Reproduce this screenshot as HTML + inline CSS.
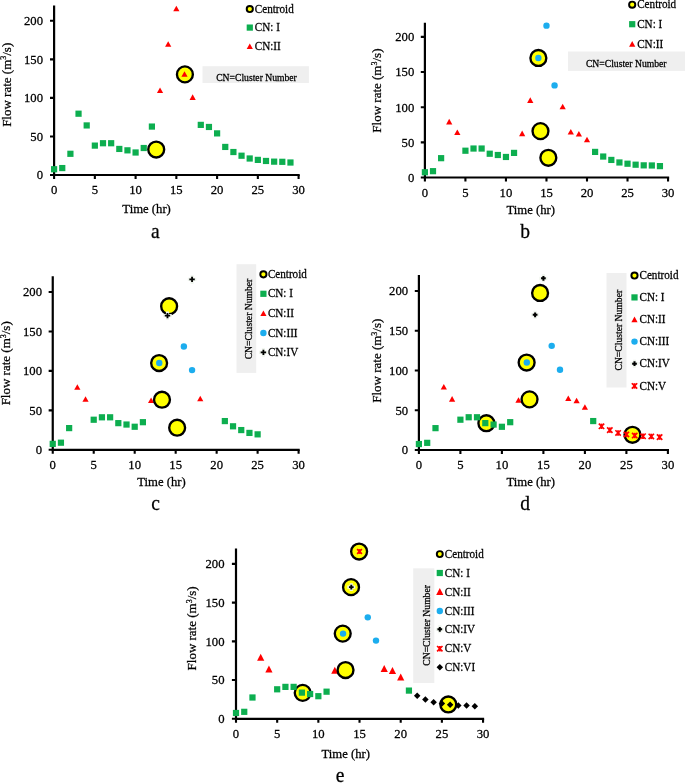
<!DOCTYPE html>
<html><head><meta charset="utf-8"><title>Cluster plots</title>
<style>html,body{margin:0;padding:0;background:#fff}svg{display:block}text{font-family:"Liberation Serif","Times New Roman",serif;fill:#000;stroke:#000;stroke-width:0.26px}</style>
</head><body>
<svg width="685" height="783" viewBox="0 0 685 783">
<defs><filter id="soft" x="0" y="0" width="685" height="783" filterUnits="userSpaceOnUse"><feGaussianBlur stdDeviation="0.33"/></filter></defs>
<rect width="685" height="783" fill="#fff"/>
<g filter="url(#soft)">
<rect x="202.5" y="66.2" width="106.4" height="16.8" fill="#efefef"/>
<path d="M54.1 5.38V176.1M53 175H299.7" stroke="#000" stroke-width="2.2" fill="none"/>
<path d="M50 175H54.1M50 136.45H54.1M50 97.9H54.1M50 59.35H54.1M50 20.8H54.1M54.1 175V178.9M94.85 175V178.9M135.6 175V178.9M176.35 175V178.9M217.1 175V178.9M257.85 175V178.9M298.6 175V178.9" stroke="#000" stroke-width="2.1" fill="none"/>
<text transform="translate(43 179.3) scale(1 1.03)" font-size="12.7" text-anchor="end" >0</text>
<text transform="translate(43 140.75) scale(1 1.03)" font-size="12.7" text-anchor="end" >50</text>
<text transform="translate(43 102.2) scale(1 1.03)" font-size="12.7" text-anchor="end" >100</text>
<text transform="translate(43 63.65) scale(1 1.03)" font-size="12.7" text-anchor="end" >150</text>
<text transform="translate(43 25.1) scale(1 1.03)" font-size="12.7" text-anchor="end" >200</text>
<text transform="translate(54.1 194.4) scale(1 1.03)" font-size="12.7" text-anchor="middle" >0</text>
<text transform="translate(94.85 194.4) scale(1 1.03)" font-size="12.7" text-anchor="middle" >5</text>
<text transform="translate(135.6 194.4) scale(1 1.03)" font-size="12.7" text-anchor="middle" >10</text>
<text transform="translate(176.35 194.4) scale(1 1.03)" font-size="12.7" text-anchor="middle" >15</text>
<text transform="translate(217.1 194.4) scale(1 1.03)" font-size="12.7" text-anchor="middle" >20</text>
<text transform="translate(257.85 194.4) scale(1 1.03)" font-size="12.7" text-anchor="middle" >25</text>
<text transform="translate(298.6 194.4) scale(1 1.03)" font-size="12.7" text-anchor="middle" >30</text>
<text transform="translate(146.6 212.8) scale(1 1.03)" font-size="12.7" text-anchor="middle" >Time (hr)</text>
<text transform="translate(10.8 84.8) rotate(-90) scale(1 1.03)" font-size="13" text-anchor="middle">Flow rate (m<tspan font-size="8" dy="-4.2">3</tspan><tspan dy="4.2">/s)</tspan></text>
<text transform="translate(155.4 237.8) scale(1 1.03)" font-size="19.5" text-anchor="middle" >a</text>
<rect x="51" y="166.12" width="6.2" height="6.2" fill="#0bae50"/>
<rect x="59.15" y="164.96" width="6.2" height="6.2" fill="#0bae50"/>
<rect x="67.3" y="150.7" width="6.2" height="6.2" fill="#0bae50"/>
<rect x="75.45" y="110.61" width="6.2" height="6.2" fill="#0bae50"/>
<rect x="83.6" y="122.32" width="6.2" height="6.2" fill="#0bae50"/>
<rect x="91.75" y="142.52" width="6.2" height="6.2" fill="#0bae50"/>
<rect x="99.9" y="140.13" width="6.2" height="6.2" fill="#0bae50"/>
<rect x="108.05" y="140.13" width="6.2" height="6.2" fill="#0bae50"/>
<rect x="116.2" y="145.84" width="6.2" height="6.2" fill="#0bae50"/>
<rect x="124.35" y="147.23" width="6.2" height="6.2" fill="#0bae50"/>
<rect x="132.5" y="149.39" width="6.2" height="6.2" fill="#0bae50"/>
<rect x="140.65" y="144.91" width="6.2" height="6.2" fill="#0bae50"/>
<rect x="148.8" y="123.48" width="6.2" height="6.2" fill="#0bae50"/>
<rect x="197.7" y="121.78" width="6.2" height="6.2" fill="#0bae50"/>
<rect x="205.85" y="123.87" width="6.2" height="6.2" fill="#0bae50"/>
<rect x="214" y="130.27" width="6.2" height="6.2" fill="#0bae50"/>
<rect x="222.15" y="143.84" width="6.2" height="6.2" fill="#0bae50"/>
<rect x="230.3" y="148.92" width="6.2" height="6.2" fill="#0bae50"/>
<rect x="238.45" y="152.62" width="6.2" height="6.2" fill="#0bae50"/>
<rect x="246.6" y="155.4" width="6.2" height="6.2" fill="#0bae50"/>
<rect x="254.75" y="156.79" width="6.2" height="6.2" fill="#0bae50"/>
<rect x="262.9" y="157.87" width="6.2" height="6.2" fill="#0bae50"/>
<rect x="271.05" y="158.56" width="6.2" height="6.2" fill="#0bae50"/>
<rect x="279.2" y="158.72" width="6.2" height="6.2" fill="#0bae50"/>
<rect x="287.35" y="159.41" width="6.2" height="6.2" fill="#0bae50"/>
<circle cx="156.22" cy="149.56" r="7.95" fill="#ffff00" stroke="#000" stroke-width="2.35"/>
<circle cx="184.91" cy="74.38" r="7.95" fill="#ffff00" stroke="#000" stroke-width="2.35"/>
<path d="M160.05 87.39L163.15 92.99L156.95 92.99Z" fill="#ff0000"/>
<path d="M168.2 41.13L171.3 46.73L165.1 46.73Z" fill="#ff0000"/>
<path d="M176.35 5.66L179.45 11.26L173.25 11.26Z" fill="#ff0000"/>
<path d="M184.5 71.2L187.6 76.8L181.4 76.8Z" fill="#ff0000"/>
<path d="M192.65 94.33L195.75 99.93L189.55 99.93Z" fill="#ff0000"/>
<circle cx="249.8" cy="9" r="3.1" fill="#ffff00" stroke="#000" stroke-width="1.95"/>
<text transform="translate(254.8 12.9) scale(1 1.03)" font-size="11.15" text-anchor="start" >Centroid</text>
<rect x="246.7" y="24.5" width="6.2" height="6.2" fill="#0bae50"/>
<text transform="translate(254.8 31.2) scale(1 1.03)" font-size="11.15" text-anchor="start" >CN: I</text>
<path d="M249.8 43.5L252.9 49.1L246.7 49.1Z" fill="#ff0000"/>
<text transform="translate(254.8 50.1) scale(1 1.03)" font-size="11.15" text-anchor="start" >CN:II</text>
<text transform="translate(256.5 80.7) scale(1 1.03)" font-size="9.65" text-anchor="middle" stroke-width="0.14">CN=Cluster Number</text>
<rect x="568" y="51.5" width="117" height="19.4" fill="#efefef"/>
<path d="M424.9 22.84V178.6M423.8 177.5H669.15" stroke="#000" stroke-width="2.2" fill="none"/>
<path d="M420.8 177.5H424.9M420.8 142.35H424.9M420.8 107.2H424.9M420.8 72.05H424.9M420.8 36.9H424.9M424.9 177.5V181.4M465.42 177.5V181.4M505.95 177.5V181.4M546.48 177.5V181.4M587 177.5V181.4M627.52 177.5V181.4M668.05 177.5V181.4" stroke="#000" stroke-width="2.1" fill="none"/>
<text transform="translate(414.3 181.8) scale(1 1.03)" font-size="12.7" text-anchor="end" >0</text>
<text transform="translate(414.3 146.65) scale(1 1.03)" font-size="12.7" text-anchor="end" >50</text>
<text transform="translate(414.3 111.5) scale(1 1.03)" font-size="12.7" text-anchor="end" >100</text>
<text transform="translate(414.3 76.35) scale(1 1.03)" font-size="12.7" text-anchor="end" >150</text>
<text transform="translate(414.3 41.2) scale(1 1.03)" font-size="12.7" text-anchor="end" >200</text>
<text transform="translate(424.9 196.7) scale(1 1.03)" font-size="12.7" text-anchor="middle" >0</text>
<text transform="translate(465.42 196.7) scale(1 1.03)" font-size="12.7" text-anchor="middle" >5</text>
<text transform="translate(505.95 196.7) scale(1 1.03)" font-size="12.7" text-anchor="middle" >10</text>
<text transform="translate(546.48 196.7) scale(1 1.03)" font-size="12.7" text-anchor="middle" >15</text>
<text transform="translate(587 196.7) scale(1 1.03)" font-size="12.7" text-anchor="middle" >20</text>
<text transform="translate(627.52 196.7) scale(1 1.03)" font-size="12.7" text-anchor="middle" >25</text>
<text transform="translate(668.05 196.7) scale(1 1.03)" font-size="12.7" text-anchor="middle" >30</text>
<text transform="translate(530.8 213.9) scale(1 1.03)" font-size="12.7" text-anchor="middle" >Time (hr)</text>
<text transform="translate(381.1 90.6) rotate(-90) scale(1 1.03)" font-size="13" text-anchor="middle">Flow rate (m<tspan font-size="8" dy="-4.2">3</tspan><tspan dy="4.2">/s)</tspan></text>
<text transform="translate(525.1 237.6) scale(1 1.03)" font-size="19.5" text-anchor="middle" >b</text>
<rect x="421.8" y="169.13" width="6.2" height="6.2" fill="#0bae50"/>
<rect x="429.9" y="168.07" width="6.2" height="6.2" fill="#0bae50"/>
<rect x="438.01" y="155.07" width="6.2" height="6.2" fill="#0bae50"/>
<rect x="462.32" y="147.62" width="6.2" height="6.2" fill="#0bae50"/>
<rect x="470.43" y="145.44" width="6.2" height="6.2" fill="#0bae50"/>
<rect x="478.53" y="145.44" width="6.2" height="6.2" fill="#0bae50"/>
<rect x="486.64" y="150.64" width="6.2" height="6.2" fill="#0bae50"/>
<rect x="494.74" y="151.9" width="6.2" height="6.2" fill="#0bae50"/>
<rect x="502.85" y="153.87" width="6.2" height="6.2" fill="#0bae50"/>
<rect x="510.95" y="149.8" width="6.2" height="6.2" fill="#0bae50"/>
<rect x="592" y="148.81" width="6.2" height="6.2" fill="#0bae50"/>
<rect x="600.11" y="153.45" width="6.2" height="6.2" fill="#0bae50"/>
<rect x="608.22" y="156.83" width="6.2" height="6.2" fill="#0bae50"/>
<rect x="616.32" y="159.36" width="6.2" height="6.2" fill="#0bae50"/>
<rect x="624.42" y="160.62" width="6.2" height="6.2" fill="#0bae50"/>
<rect x="632.53" y="161.61" width="6.2" height="6.2" fill="#0bae50"/>
<rect x="640.63" y="162.24" width="6.2" height="6.2" fill="#0bae50"/>
<rect x="648.74" y="162.38" width="6.2" height="6.2" fill="#0bae50"/>
<rect x="656.84" y="163.01" width="6.2" height="6.2" fill="#0bae50"/>
<path d="M449.21 118.81L452.31 124.41L446.11 124.41Z" fill="#ff0000"/>
<path d="M457.32 129.5L460.42 135.1L454.22 135.1Z" fill="#ff0000"/>
<path d="M522.16 130.55L525.26 136.15L519.06 136.15Z" fill="#ff0000"/>
<path d="M530.26 97.37L533.37 102.97L527.16 102.97Z" fill="#ff0000"/>
<path d="M562.68 103.7L565.78 109.3L559.58 109.3Z" fill="#ff0000"/>
<path d="M570.79 129L573.89 134.61L567.69 134.61Z" fill="#ff0000"/>
<path d="M578.89 130.9L582 136.5L575.79 136.5Z" fill="#ff0000"/>
<path d="M587 136.74L590.1 142.34L583.9 142.34Z" fill="#ff0000"/>
<circle cx="538.37" cy="57.99" r="7.95" fill="#ffff00" stroke="#000" stroke-width="2.35"/>
<circle cx="540.48" cy="131.1" r="7.95" fill="#ffff00" stroke="#000" stroke-width="2.35"/>
<circle cx="548.34" cy="157.82" r="7.95" fill="#ffff00" stroke="#000" stroke-width="2.35"/>
<circle cx="538.37" cy="57.99" r="3.2" fill="#1cadee"/>
<circle cx="546.48" cy="25.65" r="3.2" fill="#1cadee"/>
<circle cx="554.58" cy="85.41" r="3.2" fill="#1cadee"/>
<circle cx="632.2" cy="4.7" r="3.1" fill="#ffff00" stroke="#000" stroke-width="1.95"/>
<text transform="translate(637.2 8.2) scale(1 1.03)" font-size="11.15" text-anchor="start" >Centroid</text>
<rect x="629.1" y="21.1" width="6.2" height="6.2" fill="#0bae50"/>
<text transform="translate(637.2 27.7) scale(1 1.03)" font-size="11.15" text-anchor="start" >CN: I</text>
<path d="M632.2 41.1L635.3 46.7L629.1 46.7Z" fill="#ff0000"/>
<text transform="translate(637.2 47.6) scale(1 1.03)" font-size="11.15" text-anchor="start" >CN:II</text>
<text transform="translate(626.2 66.5) scale(1 1.03)" font-size="9.65" text-anchor="middle" stroke-width="0.14">CN=Cluster Number</text>
<rect x="236.5" y="264.2" width="19.7" height="108.7" fill="#efefef"/>
<path d="M52.75 276.22V450.9M51.65 449.8H299.7" stroke="#000" stroke-width="2.2" fill="none"/>
<path d="M48.65 449.8H52.75M48.65 410.35H52.75M48.65 370.9H52.75M48.65 331.45H52.75M48.65 292H52.75M52.75 449.8V453.7M93.72 449.8V453.7M134.7 449.8V453.7M175.68 449.8V453.7M216.65 449.8V453.7M257.62 449.8V453.7M298.6 449.8V453.7" stroke="#000" stroke-width="2.1" fill="none"/>
<text transform="translate(42.05 454.1) scale(1 1.03)" font-size="12.7" text-anchor="end" >0</text>
<text transform="translate(42.05 414.65) scale(1 1.03)" font-size="12.7" text-anchor="end" >50</text>
<text transform="translate(42.05 375.2) scale(1 1.03)" font-size="12.7" text-anchor="end" >100</text>
<text transform="translate(42.05 335.75) scale(1 1.03)" font-size="12.7" text-anchor="end" >150</text>
<text transform="translate(42.05 296.3) scale(1 1.03)" font-size="12.7" text-anchor="end" >200</text>
<text transform="translate(52.75 468.5) scale(1 1.03)" font-size="12.7" text-anchor="middle" >0</text>
<text transform="translate(93.72 468.5) scale(1 1.03)" font-size="12.7" text-anchor="middle" >5</text>
<text transform="translate(134.7 468.5) scale(1 1.03)" font-size="12.7" text-anchor="middle" >10</text>
<text transform="translate(175.68 468.5) scale(1 1.03)" font-size="12.7" text-anchor="middle" >15</text>
<text transform="translate(216.65 468.5) scale(1 1.03)" font-size="12.7" text-anchor="middle" >20</text>
<text transform="translate(257.62 468.5) scale(1 1.03)" font-size="12.7" text-anchor="middle" >25</text>
<text transform="translate(298.6 468.5) scale(1 1.03)" font-size="12.7" text-anchor="middle" >30</text>
<text transform="translate(161.5 485.95) scale(1 1.03)" font-size="12.7" text-anchor="middle" >Time (hr)</text>
<text transform="translate(10.1 363.3) rotate(-90) scale(1 1.03)" font-size="13" text-anchor="middle">Flow rate (m<tspan font-size="8" dy="-4.2">3</tspan><tspan dy="4.2">/s)</tspan></text>
<text transform="translate(155.7 510.1) scale(1 1.03)" font-size="19.5" text-anchor="middle" >c</text>
<rect x="49.65" y="440.78" width="6.2" height="6.2" fill="#0bae50"/>
<rect x="57.84" y="439.6" width="6.2" height="6.2" fill="#0bae50"/>
<rect x="66.04" y="425" width="6.2" height="6.2" fill="#0bae50"/>
<rect x="90.62" y="416.64" width="6.2" height="6.2" fill="#0bae50"/>
<rect x="98.82" y="414.19" width="6.2" height="6.2" fill="#0bae50"/>
<rect x="107.02" y="414.19" width="6.2" height="6.2" fill="#0bae50"/>
<rect x="115.21" y="420.03" width="6.2" height="6.2" fill="#0bae50"/>
<rect x="123.41" y="421.45" width="6.2" height="6.2" fill="#0bae50"/>
<rect x="131.6" y="423.66" width="6.2" height="6.2" fill="#0bae50"/>
<rect x="139.8" y="419.08" width="6.2" height="6.2" fill="#0bae50"/>
<rect x="221.75" y="417.98" width="6.2" height="6.2" fill="#0bae50"/>
<rect x="229.94" y="423.19" width="6.2" height="6.2" fill="#0bae50"/>
<rect x="238.14" y="426.97" width="6.2" height="6.2" fill="#0bae50"/>
<rect x="246.33" y="429.82" width="6.2" height="6.2" fill="#0bae50"/>
<rect x="254.53" y="431.24" width="6.2" height="6.2" fill="#0bae50"/>
<path d="M77.34 384.27L80.44 389.87L74.24 389.87Z" fill="#ff0000"/>
<path d="M85.53 396.27L88.63 401.87L82.43 401.87Z" fill="#ff0000"/>
<path d="M151.09 397.45L154.19 403.05L147.99 403.05Z" fill="#ff0000"/>
<path d="M200.26 395.71L203.36 401.31L197.16 401.31Z" fill="#ff0000"/>
<circle cx="169.12" cy="306.2" r="7.95" fill="#ffff00" stroke="#000" stroke-width="2.35"/>
<circle cx="159.12" cy="363.01" r="7.95" fill="#ffff00" stroke="#000" stroke-width="2.35"/>
<circle cx="161.99" cy="399.7" r="7.95" fill="#ffff00" stroke="#000" stroke-width="2.35"/>
<circle cx="177.15" cy="427.71" r="7.95" fill="#ffff00" stroke="#000" stroke-width="2.35"/>
<circle cx="159.28" cy="363.01" r="3.2" fill="#1cadee"/>
<circle cx="183.87" cy="346.44" r="3.2" fill="#1cadee"/>
<circle cx="192.06" cy="370.11" r="3.2" fill="#1cadee"/>
<path d="M164.78 315.67H170.18M167.48 312.97V318.37" stroke="#eef4ec" stroke-width="3.1" stroke-linecap="square" fill="none"/><path d="M164.78 315.67H170.18M167.48 312.97V318.37" stroke="#000" stroke-width="1.8" fill="none"/>
<path d="M189.37 279.38H194.76M192.06 276.68V282.08" stroke="#eef4ec" stroke-width="3.1" stroke-linecap="square" fill="none"/><path d="M189.37 279.38H194.76M192.06 276.68V282.08" stroke="#000" stroke-width="1.8" fill="none"/>
<circle cx="263.4" cy="274.3" r="3.1" fill="#ffff00" stroke="#000" stroke-width="1.95"/>
<text transform="translate(267.9 277.8) scale(1 1.03)" font-size="11.15" text-anchor="start" >Centroid</text>
<rect x="260.3" y="290.7" width="6.2" height="6.2" fill="#0bae50"/>
<text transform="translate(267.9 297.4) scale(1 1.03)" font-size="11.15" text-anchor="start" >CN: I</text>
<path d="M263.4 310.5L266.5 316.1L260.3 316.1Z" fill="#ff0000"/>
<text transform="translate(267.9 316.9) scale(1 1.03)" font-size="11.15" text-anchor="start" >CN:II</text>
<circle cx="263.4" cy="333" r="3.2" fill="#1cadee"/>
<text transform="translate(267.9 336.6) scale(1 1.03)" font-size="11.15" text-anchor="start" >CN:III</text>
<path d="M260.7 352.4H266.1M263.4 349.7V355.1" stroke="#eef4ec" stroke-width="3.1" stroke-linecap="square" fill="none"/><path d="M260.7 352.4H266.1M263.4 349.7V355.1" stroke="#000" stroke-width="1.8" fill="none"/>
<text transform="translate(267.9 356) scale(1 1.03)" font-size="11.15" text-anchor="start" >CN:IV</text>
<text transform="translate(251.5 319) rotate(-90) scale(1 1.03)" font-size="9.65" stroke-width="0.14" text-anchor="middle">CN=Cluster Number</text>
<rect x="606.5" y="273" width="20" height="114.5" fill="#efefef"/>
<path d="M418.9 275.1V451.1M417.8 450H669" stroke="#000" stroke-width="2.2" fill="none"/>
<path d="M414.8 450H418.9M414.8 410.25H418.9M414.8 370.5H418.9M414.8 330.75H418.9M414.8 291H418.9M418.9 450V453.9M460.4 450V453.9M501.9 450V453.9M543.4 450V453.9M584.9 450V453.9M626.4 450V453.9M667.9 450V453.9" stroke="#000" stroke-width="2.1" fill="none"/>
<text transform="translate(408.1 454.3) scale(1 1.03)" font-size="12.7" text-anchor="end" >0</text>
<text transform="translate(408.1 414.55) scale(1 1.03)" font-size="12.7" text-anchor="end" >50</text>
<text transform="translate(408.1 374.8) scale(1 1.03)" font-size="12.7" text-anchor="end" >100</text>
<text transform="translate(408.1 335.05) scale(1 1.03)" font-size="12.7" text-anchor="end" >150</text>
<text transform="translate(408.1 295.3) scale(1 1.03)" font-size="12.7" text-anchor="end" >200</text>
<text transform="translate(418.9 468.5) scale(1 1.03)" font-size="12.7" text-anchor="middle" >0</text>
<text transform="translate(460.4 468.5) scale(1 1.03)" font-size="12.7" text-anchor="middle" >5</text>
<text transform="translate(501.9 468.5) scale(1 1.03)" font-size="12.7" text-anchor="middle" >10</text>
<text transform="translate(543.4 468.5) scale(1 1.03)" font-size="12.7" text-anchor="middle" >15</text>
<text transform="translate(584.9 468.5) scale(1 1.03)" font-size="12.7" text-anchor="middle" >20</text>
<text transform="translate(626.4 468.5) scale(1 1.03)" font-size="12.7" text-anchor="middle" >25</text>
<text transform="translate(667.9 468.5) scale(1 1.03)" font-size="12.7" text-anchor="middle" >30</text>
<text transform="translate(530.8 485.95) scale(1 1.03)" font-size="12.7" text-anchor="middle" >Time (hr)</text>
<text transform="translate(381.1 360.7) rotate(-90) scale(1 1.03)" font-size="13" text-anchor="middle">Flow rate (m<tspan font-size="8" dy="-4.2">3</tspan><tspan dy="4.2">/s)</tspan></text>
<text transform="translate(525.2 510.1) scale(1 1.03)" font-size="19.5" text-anchor="middle" >d</text>
<path d="M443.8 384L446.9 389.6L440.7 389.6Z" fill="#ff0000"/>
<path d="M452.1 396.08L455.2 401.68L449 401.68Z" fill="#ff0000"/>
<path d="M518.5 397.27L521.6 402.87L515.4 402.87Z" fill="#ff0000"/>
<path d="M568.3 395.52L571.4 401.12L565.2 401.12Z" fill="#ff0000"/>
<path d="M576.6 397.67L579.7 403.27L573.5 403.27Z" fill="#ff0000"/>
<path d="M584.9 404.27L588 409.87L581.8 409.87Z" fill="#ff0000"/>
<circle cx="540.08" cy="292.99" r="7.95" fill="#ffff00" stroke="#000" stroke-width="2.35"/>
<circle cx="526.63" cy="362.55" r="7.95" fill="#ffff00" stroke="#000" stroke-width="2.35"/>
<circle cx="529.54" cy="399.36" r="7.95" fill="#ffff00" stroke="#000" stroke-width="2.35"/>
<circle cx="486.38" cy="423.21" r="7.95" fill="#ffff00" stroke="#000" stroke-width="2.35"/>
<circle cx="632.46" cy="434.82" r="7.95" fill="#ffff00" stroke="#000" stroke-width="2.35"/>
<rect x="415.8" y="440.94" width="6.2" height="6.2" fill="#0bae50"/>
<rect x="424.1" y="439.75" width="6.2" height="6.2" fill="#0bae50"/>
<rect x="432.4" y="425.04" width="6.2" height="6.2" fill="#0bae50"/>
<rect x="457.3" y="416.61" width="6.2" height="6.2" fill="#0bae50"/>
<rect x="465.6" y="414.15" width="6.2" height="6.2" fill="#0bae50"/>
<rect x="473.9" y="414.15" width="6.2" height="6.2" fill="#0bae50"/>
<rect x="482.2" y="420.03" width="6.2" height="6.2" fill="#0bae50"/>
<rect x="490.5" y="421.46" width="6.2" height="6.2" fill="#0bae50"/>
<rect x="498.8" y="423.69" width="6.2" height="6.2" fill="#0bae50"/>
<rect x="507.1" y="419.07" width="6.2" height="6.2" fill="#0bae50"/>
<rect x="590.1" y="417.96" width="6.2" height="6.2" fill="#0bae50"/>
<circle cx="526.8" cy="362.55" r="3.2" fill="#1cadee"/>
<circle cx="551.7" cy="345.86" r="3.2" fill="#1cadee"/>
<circle cx="560" cy="369.7" r="3.2" fill="#1cadee"/>
<path d="M532.75 314.85H537.45M535.1 312.5V317.2" stroke="#eef4ec" stroke-width="3.3" stroke-linecap="square" fill="none"/><path d="M532.75 314.85H537.45M535.1 312.5V317.2" stroke="#000" stroke-width="2.0" fill="none"/>
<path d="M541.05 278.28H545.75M543.4 275.93V280.63" stroke="#eef4ec" stroke-width="3.3" stroke-linecap="square" fill="none"/><path d="M541.05 278.28H545.75M543.4 275.93V280.63" stroke="#000" stroke-width="2.0" fill="none"/>
<path d="M598.8 423.61L604.2 429.01M604.2 423.61L598.8 429.01" stroke="#ff0000" stroke-width="1.6" fill="none"/><path d="M601.5 423.61V429.01" stroke="#ff0000" stroke-width="2.1" fill="none"/>
<path d="M607.1 427.43L612.5 432.82M612.5 427.43L607.1 432.82" stroke="#ff0000" stroke-width="1.6" fill="none"/><path d="M609.8 427.43V432.82" stroke="#ff0000" stroke-width="2.1" fill="none"/>
<path d="M615.4 430.29L620.8 435.69M620.8 430.29L615.4 435.69" stroke="#ff0000" stroke-width="1.6" fill="none"/><path d="M618.1 430.29V435.69" stroke="#ff0000" stroke-width="2.1" fill="none"/>
<path d="M623.7 431.72L629.1 437.12M629.1 431.72L623.7 437.12" stroke="#ff0000" stroke-width="1.6" fill="none"/><path d="M626.4 431.72V437.12" stroke="#ff0000" stroke-width="2.1" fill="none"/>
<path d="M632 432.83L637.4 438.23M637.4 432.83L632 438.23" stroke="#ff0000" stroke-width="1.6" fill="none"/><path d="M634.7 432.83V438.23" stroke="#ff0000" stroke-width="2.1" fill="none"/>
<path d="M640.3 433.55L645.7 438.95M645.7 433.55L640.3 438.95" stroke="#ff0000" stroke-width="1.6" fill="none"/><path d="M643 433.55V438.95" stroke="#ff0000" stroke-width="2.1" fill="none"/>
<path d="M648.6 433.71L654 439.11M654 433.71L648.6 439.11" stroke="#ff0000" stroke-width="1.6" fill="none"/><path d="M651.3 433.71V439.11" stroke="#ff0000" stroke-width="2.1" fill="none"/>
<path d="M656.9 434.42L662.3 439.82M662.3 434.42L656.9 439.82" stroke="#ff0000" stroke-width="1.6" fill="none"/><path d="M659.6 434.42V439.82" stroke="#ff0000" stroke-width="2.1" fill="none"/>
<circle cx="634.5" cy="275.5" r="3.1" fill="#ffff00" stroke="#000" stroke-width="1.95"/>
<text transform="translate(639.5 279.1) scale(1 1.03)" font-size="11.15" text-anchor="start" >Centroid</text>
<rect x="631.4" y="294.3" width="6.2" height="6.2" fill="#0bae50"/>
<text transform="translate(639.5 301.1) scale(1 1.03)" font-size="11.15" text-anchor="start" >CN: I</text>
<path d="M634.5 316.6L637.6 322.2L631.4 322.2Z" fill="#ff0000"/>
<text transform="translate(639.5 323.2) scale(1 1.03)" font-size="11.15" text-anchor="start" >CN:II</text>
<circle cx="634.5" cy="341.6" r="3.2" fill="#1cadee"/>
<text transform="translate(639.5 345.2) scale(1 1.03)" font-size="11.15" text-anchor="start" >CN:III</text>
<path d="M632.15 363.7H636.85M634.5 361.35V366.05" stroke="#eef4ec" stroke-width="3.3" stroke-linecap="square" fill="none"/><path d="M632.15 363.7H636.85M634.5 361.35V366.05" stroke="#000" stroke-width="2.0" fill="none"/>
<text transform="translate(639.5 367.4) scale(1 1.03)" font-size="11.15" text-anchor="start" >CN:IV</text>
<path d="M631.8 383.2L637.2 388.6M637.2 383.2L631.8 388.6" stroke="#ff0000" stroke-width="1.6" fill="none"/><path d="M634.5 383.2V388.6" stroke="#ff0000" stroke-width="2.1" fill="none"/>
<text transform="translate(639.5 389.5) scale(1 1.03)" font-size="11.15" text-anchor="start" >CN:V</text>
<text transform="translate(622 330.2) rotate(-90) scale(1 1.03)" font-size="9.65" stroke-width="0.14" text-anchor="middle">CN=Cluster Number</text>
<rect x="413.2" y="568.3" width="21.1" height="114.7" fill="#efefef"/>
<path d="M236 548.41V719.9M234.9 718.8H484.15" stroke="#000" stroke-width="2.2" fill="none"/>
<path d="M231.9 718.8H236M231.9 680.07H236M231.9 641.35H236M231.9 602.62H236M231.9 563.9H236M236 718.8V722.7M277.18 718.8V722.7M318.35 718.8V722.7M359.52 718.8V722.7M400.7 718.8V722.7M441.88 718.8V722.7M483.05 718.8V722.7" stroke="#000" stroke-width="2.1" fill="none"/>
<text transform="translate(224.5 723.1) scale(1 1.03)" font-size="12.7" text-anchor="end" >0</text>
<text transform="translate(224.5 684.37) scale(1 1.03)" font-size="12.7" text-anchor="end" >50</text>
<text transform="translate(224.5 645.65) scale(1 1.03)" font-size="12.7" text-anchor="end" >100</text>
<text transform="translate(224.5 606.92) scale(1 1.03)" font-size="12.7" text-anchor="end" >150</text>
<text transform="translate(224.5 568.2) scale(1 1.03)" font-size="12.7" text-anchor="end" >200</text>
<text transform="translate(236 737.9) scale(1 1.03)" font-size="12.7" text-anchor="middle" >0</text>
<text transform="translate(277.18 737.9) scale(1 1.03)" font-size="12.7" text-anchor="middle" >5</text>
<text transform="translate(318.35 737.9) scale(1 1.03)" font-size="12.7" text-anchor="middle" >10</text>
<text transform="translate(359.52 737.9) scale(1 1.03)" font-size="12.7" text-anchor="middle" >15</text>
<text transform="translate(400.7 737.9) scale(1 1.03)" font-size="12.7" text-anchor="middle" >20</text>
<text transform="translate(441.88 737.9) scale(1 1.03)" font-size="12.7" text-anchor="middle" >25</text>
<text transform="translate(483.05 737.9) scale(1 1.03)" font-size="12.7" text-anchor="middle" >30</text>
<text transform="translate(345.8 757.7) scale(1 1.03)" font-size="12.7" text-anchor="middle" >Time (hr)</text>
<text transform="translate(195.9 628.4) rotate(-90) scale(1 1.03)" font-size="13" text-anchor="middle">Flow rate (m<tspan font-size="8" dy="-4.2">3</tspan><tspan dy="4.2">/s)</tspan></text>
<text transform="translate(340 781.6) scale(1 1.03)" font-size="19.5" text-anchor="middle" >e</text>
<path d="M260.7 653.73L264.31 660.73L257.1 660.73Z" fill="#ff0000"/>
<path d="M268.94 665.5L272.54 672.5L265.34 672.5Z" fill="#ff0000"/>
<path d="M334.82 666.66L338.42 673.66L331.22 673.66Z" fill="#ff0000"/>
<path d="M384.23 664.96L387.83 671.96L380.63 671.96Z" fill="#ff0000"/>
<path d="M392.46 667.05L396.06 674.05L388.86 674.05Z" fill="#ff0000"/>
<path d="M400.7 673.48L404.3 680.48L397.1 680.48Z" fill="#ff0000"/>
<circle cx="359.11" cy="551.51" r="7.95" fill="#ffff00" stroke="#000" stroke-width="2.35"/>
<circle cx="351.04" cy="587.13" r="7.95" fill="#ffff00" stroke="#000" stroke-width="2.35"/>
<circle cx="342.73" cy="633.61" r="7.95" fill="#ffff00" stroke="#000" stroke-width="2.35"/>
<circle cx="345.53" cy="670.01" r="7.95" fill="#ffff00" stroke="#000" stroke-width="2.35"/>
<circle cx="302.7" cy="692.85" r="7.95" fill="#ffff00" stroke="#000" stroke-width="2.35"/>
<circle cx="448.3" cy="704.47" r="7.95" fill="#ffff00" stroke="#000" stroke-width="2.35"/>
<rect x="232.9" y="709.89" width="6.2" height="6.2" fill="#0bae50"/>
<rect x="241.14" y="708.73" width="6.2" height="6.2" fill="#0bae50"/>
<rect x="249.37" y="694.4" width="6.2" height="6.2" fill="#0bae50"/>
<rect x="274.07" y="686.19" width="6.2" height="6.2" fill="#0bae50"/>
<rect x="282.31" y="683.79" width="6.2" height="6.2" fill="#0bae50"/>
<rect x="290.54" y="683.79" width="6.2" height="6.2" fill="#0bae50"/>
<rect x="298.78" y="689.52" width="6.2" height="6.2" fill="#0bae50"/>
<rect x="307.01" y="690.92" width="6.2" height="6.2" fill="#0bae50"/>
<rect x="315.25" y="693.08" width="6.2" height="6.2" fill="#0bae50"/>
<rect x="323.48" y="688.59" width="6.2" height="6.2" fill="#0bae50"/>
<rect x="405.83" y="687.51" width="6.2" height="6.2" fill="#0bae50"/>
<circle cx="343.06" cy="633.61" r="3.2" fill="#1cadee"/>
<circle cx="367.76" cy="617.34" r="3.2" fill="#1cadee"/>
<circle cx="376" cy="640.58" r="3.2" fill="#1cadee"/>
<path d="M348.94 587.13H353.64M351.29 584.78V589.49" stroke="#eef4ec" stroke-width="3.2" stroke-linecap="square" fill="none"/><path d="M348.94 587.13H353.64M351.29 584.78V589.49" stroke="#000" stroke-width="1.9" fill="none"/>
<path d="M357.12 549.11L361.92 553.91M361.92 549.11L357.12 553.91" stroke="#ff0000" stroke-width="1.6" fill="none"/><path d="M359.52 549.11V553.91" stroke="#ff0000" stroke-width="2.1" fill="none"/>
<path d="M417.17 692.47L420.42 695.72L417.17 698.97L413.92 695.72Z" fill="#000"/>
<path d="M425.4 696.19L428.65 699.44L425.4 702.69L422.15 699.44Z" fill="#000"/>
<path d="M433.64 698.98L436.89 702.23L433.64 705.48L430.39 702.23Z" fill="#000"/>
<path d="M441.88 700.37L445.12 703.62L441.88 706.87L438.62 703.62Z" fill="#000"/>
<path d="M450.11 701.45L453.36 704.7L450.11 707.95L446.86 704.7Z" fill="#000"/>
<path d="M458.34 702.15L461.59 705.4L458.34 708.65L455.09 705.4Z" fill="#000"/>
<path d="M466.58 702.31L469.83 705.56L466.58 708.81L463.33 705.56Z" fill="#000"/>
<path d="M474.81 703L478.06 706.25L474.81 709.5L471.56 706.25Z" fill="#000"/>
<circle cx="439.8" cy="554.1" r="3" fill="#ffff00" stroke="#000" stroke-width="1.95"/>
<text transform="translate(444.8 557.7) scale(1 1.03)" font-size="11.15" text-anchor="start" >Centroid</text>
<rect x="436.7" y="569.9" width="6.2" height="6.2" fill="#0bae50"/>
<text transform="translate(444.8 576.6) scale(1 1.03)" font-size="11.15" text-anchor="start" >CN: I</text>
<path d="M439.8 588.1L443.4 595.1L436.2 595.1Z" fill="#ff0000"/>
<text transform="translate(444.8 595.6) scale(1 1.03)" font-size="11.15" text-anchor="start" >CN:II</text>
<circle cx="439.8" cy="611" r="3.2" fill="#1cadee"/>
<text transform="translate(444.8 614.6) scale(1 1.03)" font-size="11.15" text-anchor="start" >CN:III</text>
<path d="M437.45 629.3H442.15M439.8 626.95V631.65" stroke="#eef4ec" stroke-width="3.2" stroke-linecap="square" fill="none"/><path d="M437.45 629.3H442.15M439.8 626.95V631.65" stroke="#000" stroke-width="1.9" fill="none"/>
<text transform="translate(444.8 633.2) scale(1 1.03)" font-size="11.15" text-anchor="start" >CN:IV</text>
<path d="M437.1 646L442.5 651.4M442.5 646L437.1 651.4" stroke="#ff0000" stroke-width="1.6" fill="none"/><path d="M439.8 646V651.4" stroke="#ff0000" stroke-width="2.1" fill="none"/>
<text transform="translate(444.8 652.3) scale(1 1.03)" font-size="11.15" text-anchor="start" >CN:V</text>
<path d="M439.8 664.05L443.05 667.3L439.8 670.55L436.55 667.3Z" fill="#000"/>
<text transform="translate(444.8 670.9) scale(1 1.03)" font-size="11.15" text-anchor="start" >CN:VI</text>
<text transform="translate(429.6 625.4) rotate(-90) scale(1 1.03)" font-size="9.65" stroke-width="0.14" text-anchor="middle">CN=Cluster Number</text>
</g>
</svg>
</body></html>
